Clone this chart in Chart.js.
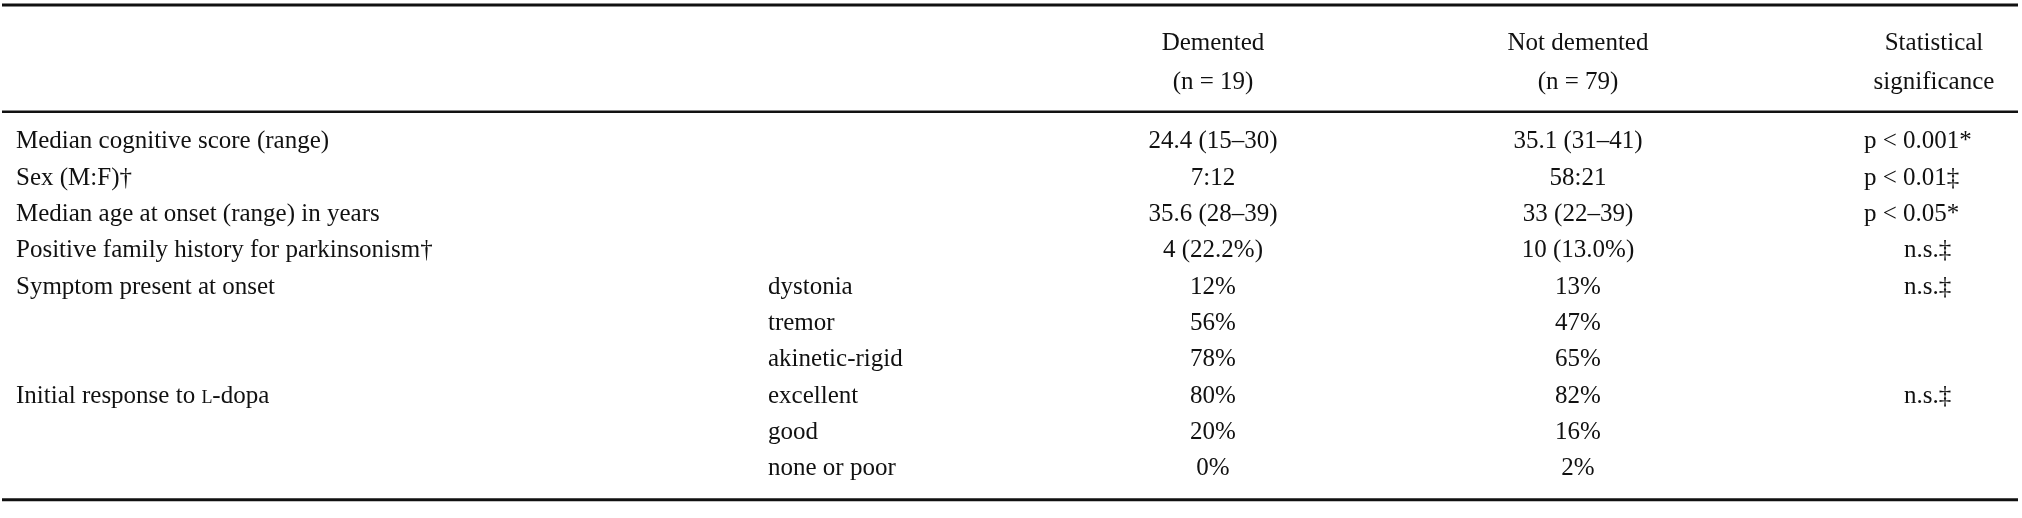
<!DOCTYPE html>
<html><head><meta charset="utf-8">
<script src="https://cdn.jsdelivr.net/npm/chart.js@4/dist/chart.umd.min.js"></script>
<style>html,body{margin:0;padding:0;background:#fff}#wrap{width:2022px;height:518px}</style>
</head><body><div id="wrap"><canvas id="c"></canvas></div>
<script>
const headers = ["Demented|(n = 19)", "Not demented|(n = 79)", "Statistical|significance"];
const rowLabels = ["Median cognitive score (range)", "Sex (M:F)\u2020", "Median age at onset (range) in years",
  "Positive family history for parkinsonism\u2020", "Symptom present at onset", "", "", "Initial response to L-dopa", "", ""];
const subLabels = ["", "", "", "", "dystonia", "tremor", "akinetic-rigid", "excellent", "good", "none or poor"];
const demented = ["24.4 (15\u201330)", "7:12", "35.6 (28\u201339)", "4 (22.2%)", "12%", "56%", "78%", "80%", "20%", "0%"];
const notDemented = ["35.1 (31\u201341)", "58:21", "33 (22\u201339)", "10 (13.0%)", "13%", "47%", "65%", "82%", "16%", "2%"];
const significance = ["p < 0.001*", "p < 0.01\u2021", "p < 0.05*", "n.s.\u2021", "n.s.\u2021", "", "", "n.s.\u2021", "", ""];

const FONT = '25px "Liberation Serif", "DejaVu Serif", serif';
const tablePlugin = {
  id: 'tableText',
  afterDraw(chart) {
    const ctx = chart.ctx, xs = chart.scales.x, ys = chart.scales.y;
    const X = v => xs.getPixelForValue(v), Y = v => ys.getPixelForValue(v);
    ctx.save();
    ctx.strokeStyle = '#111';
    [[-3.77, 3], [-0.83, 2.5], [9.86, 3]].forEach(([v, w]) => {
      ctx.lineWidth = w; ctx.beginPath(); ctx.moveTo(X(2), Y(v)); ctx.lineTo(X(2018), Y(v)); ctx.stroke();
    });
    ctx.fillStyle = '#111'; ctx.font = FONT; ctx.textBaseline = 'middle';
    ctx.textAlign = 'center';
    const hx = [1213, 1578, 1934];
    headers.forEach((h, i) => { const [a, b] = h.split('|'); ctx.fillText(a, X(hx[i]), Y(-2.70)); ctx.fillText(b, X(hx[i]), Y(-1.65)); });
    rowLabels.forEach((t, i) => {
      ctx.textAlign = 'left';
      if (t) {
        if (t.includes('L-dopa')) {
          const pre = 'Initial response to ';
          ctx.fillText(pre, X(16), Y(i));
          let w = ctx.measureText(pre).width;
          ctx.font = '18px "Liberation Serif", serif'; ctx.fillText('L', X(16) + w, Y(i) + 2);
          w += ctx.measureText('L').width; ctx.font = FONT; ctx.fillText('-dopa', X(16) + w, Y(i));
        } else ctx.fillText(t, X(16), Y(i));
      }
      if (subLabels[i]) ctx.fillText(subLabels[i], X(768), Y(i));
      if (significance[i]) ctx.fillText(significance[i], X(significance[i].startsWith('p') ? 1864 : 1904), Y(i));
      ctx.textAlign = 'center';
      ctx.fillText(demented[i], X(1213), Y(i));
      ctx.fillText(notDemented[i], X(1578), Y(i));
    });
    ctx.restore();
  }
};

new Chart(document.getElementById('c'), {
  type: 'scatter',
  data: { datasets: [{ data: demented.map((_, i) => ({ x: 1213, y: i })), pointRadius: 0 }] },
  options: {
    responsive: true, maintainAspectRatio: false, animation: false,
    layout: { padding: 0 },
    plugins: { legend: { display: false }, tooltip: { enabled: false } },
    scales: {
      x: { type: 'linear', min: 0, max: 2022, display: false },
      y: { type: 'linear', min: -3.91, max: 10.36, reverse: true, display: false }
    }
  },
  plugins: [tablePlugin]
});
</script></body></html>
